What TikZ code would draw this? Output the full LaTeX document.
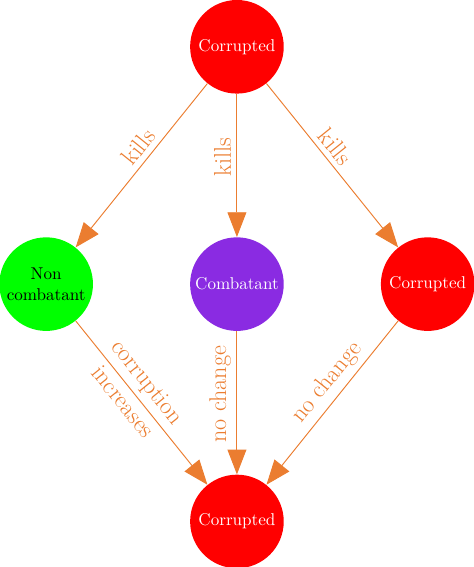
\documentclass[tikz,border=0pt]{standalone}
\usepackage{xcolor}
\definecolor{edgeorange}{RGB}{235,125,48}
\definecolor{corrred}{RGB}{255,0,0}
\definecolor{noncgreen}{RGB}{0,255,0}
\definecolor{combviolet}{RGB}{138,43,226}
\usepackage{tikz}
\usetikzlibrary{arrows.meta, positioning}

\begin{document}
\begin{tikzpicture}[
    node distance=3.18cm and 2.145cm,
    corrbox/.style={circle, fill=corrred, text=white, minimum size=2.08cm, inner sep=0pt, align=center,
                    font=\fontsize{10.8}{13}\selectfont},
    noncbox/.style={circle, fill=noncgreen, text=black, minimum size=2.08cm, inner sep=0pt, align=center,
                    font=\fontsize{10.8}{13}\selectfont},
    combbox/.style={circle, fill=combviolet, text=white, minimum size=2.08cm, inner sep=0pt, align=center,
                    font=\fontsize{10.8}{13}\selectfont},
    arr/.style={-{Triangle[length=0.55cm, width=0.42cm]}, semithick, edgeorange},
    lbl/.style={font=\fontsize{15.3}{18}\selectfont, text=edgeorange, sloped, pos=0.44},
    vlbl/.style={font=\fontsize{15.3}{18}\selectfont, text=edgeorange, rotate=90, pos=0.44},
]

\useasboundingbox (-5.265,-11.56) rectangle (5.265,1.04);

\node[corrbox] (top) at (0,0) {Corrupted};

\node[combbox, below=of top] (comb) {Combatant};
\node[noncbox, left=of comb] (nonc) {Non\\combatant};
\node[corrbox, right=of comb] (corr) {Corrupted};

\node[corrbox, below=of comb] (bottom) {Corrupted};

\draw[arr] (top) -- node[lbl, above] {kills} (nonc);
\draw[arr] (top) -- node[vlbl, above] {kills} (comb);
\draw[arr] (top) -- node[lbl, above] {kills} (corr);

\draw[arr] (nonc) -- node[lbl, above] {corruption} node[lbl, below] {increases} (bottom);
\draw[arr] (comb) -- node[vlbl, above] {no change} (bottom);
\draw[arr] (corr) -- node[lbl, above] {no change} (bottom);

\end{tikzpicture}
\end{document}
